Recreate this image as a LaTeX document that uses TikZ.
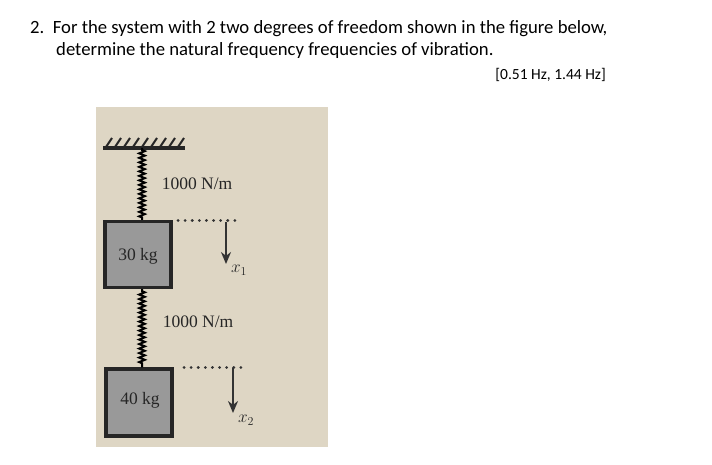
\documentclass[tikz,border=0pt]{standalone}
\usepackage{fontspec}
\setmainfont{Carlito}
\newfontfamily\serifb{Liberation Serif}
\usetikzlibrary{decorations.pathmorphing,arrows.meta}
\begin{document}
\begin{tikzpicture}[x=1pt,y=-1pt,
  spr/.style={line width=2pt,decorate,decoration={zigzag,segment length=4.5pt,amplitude=2.8pt,pre length=2pt,post length=2pt}},
  mass/.style={draw=black!85,line width=3.4pt,fill=black!40},
  lbl/.style={font=\serifb\fontsize{17.5}{17.5}\selectfont,text=black!85},
  dots/.style={line width=3pt,line cap=round,dash pattern=on 0.1pt off 7pt,draw=black!80},
  arr/.style={line width=2pt,draw=black!80,-{Stealth[length=12pt,width=10pt]}}]
\useasboundingbox (0,0) rectangle (712,465);
\fill[white] (0,0) rectangle (712,465);
\node[anchor=base west,inner sep=0pt,font=\fontsize{18.7}{18.7}\selectfont] (q1) at (30,34) {2.\ \ For the system with 2 two degrees of freedom shown in the figure below,};
\node[anchor=base west,inner sep=0pt,font=\fontsize{18.7}{18.7}\selectfont] (q2) at (56,56) {determine the natural frequency frequencies of vibration.};
\node[anchor=base east,inner sep=0pt,font=\fontsize{15.5}{15.5}\selectfont] (ans) at (606,80) {[0.51 Hz, 1.44 Hz]};
\fill[color={rgb,255:red,222;green,214;blue,196}] (96,107) rectangle (328,447);
\coordinate (c) at (142,148);
\draw[line width=3.4pt,draw=black!85] (103,148) -- (185,148);
\foreach \i in {0,...,8} \draw[line width=2pt,draw=black!85] (106+\i*9,147) -- (112+\i*9,138);
\node[mass,minimum width=66pt,minimum height=66pt,inner sep=0pt] (m1) at (138,254.5) {};
\node[lbl,inner sep=0pt] (l30) at (138,256) {30 kg};
\node[mass,minimum width=66pt,minimum height=67pt,inner sep=0pt] (m2) at (139,402.5) {};
\node[lbl,inner sep=0pt] (l40) at (140,400) {40 kg};
\draw[spr] (c) -- (m1.north -| c);
\draw[spr] (m1.south -| c) -- (m2.north -| c);
\node[lbl,inner sep=0pt] (k1) at (197,184) {1000 N/m};
\node[lbl,inner sep=0pt] (k2) at (198,322) {1000 N/m};
\coordinate (d1a) at (178,221); \coordinate (d1b) at (241,221);
\coordinate (d2a) at (184,367); \coordinate (d2b) at (247,367);
\draw[dots] (d1a) -- (d1b);
\draw[dots] (d2a) -- (d2b);
\coordinate (a1) at (226,222); \coordinate (a1e) at (226,264);
\coordinate (a2) at (233,368); \coordinate (a2e) at (233,413);
\draw[arr] (a1) -- (a1e);
\draw[arr] (a2) -- (a2e);
\node[inner sep=0pt,text=black!85,font=\fontsize{17.5}{17.5}\selectfont] (x1) at (239,270) {$x_1$};
\node[inner sep=0pt,text=black!85,font=\fontsize{17.5}{17.5}\selectfont] (x2) at (246,420) {$x_2$};
\end{tikzpicture}
\end{document}
